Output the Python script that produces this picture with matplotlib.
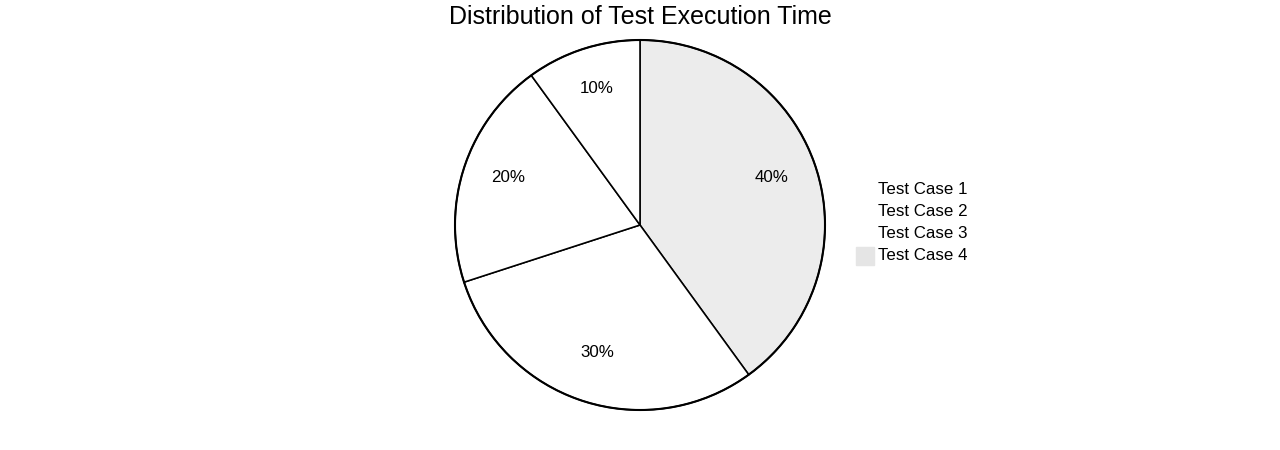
import matplotlib.pyplot as plt
from matplotlib.patches import Circle, Rectangle

labels = ["Test Case 1", "Test Case 2", "Test Case 3", "Test Case 4"]
values = [10, 20, 30, 40]
colors = ["#ffffff", "#ffffff", "#ffffff", "#ececec"]
legend_colors = ["#ffffff", "#ffffff", "#ffffff", "#e5e5e5"]

plt.rcParams["font.family"] = ["Liberation Sans", "DejaVu Sans"]

fig = plt.figure(figsize=(12.8, 4.5), dpi=100)
ax = fig.add_axes([0, 0, 1, 1])

# slices drawn largest first, clockwise from 12 o'clock
order = sorted(range(len(values)), key=lambda i: -values[i])
total = sum(values)
cx, cy, r = 640, 225, 185
wedges, texts = ax.pie(
    [values[i] for i in order],
    colors=[colors[i] for i in order],
    startangle=90, counterclock=False,
    center=(cx, cy), radius=r, frame=True,
    labels=[f"{values[i] / total * 100:.0f}%" for i in order],
    labeldistance=0.75,
    wedgeprops=dict(edgecolor="black", linewidth=1.15),
    textprops=dict(fontsize=12.2, color="black", ha="center", va="center"),
)
for t in texts:
    x, y = t.get_position()
    t.set_position((x, y + 4.5))
ax.set_xlim(0, 1280)
ax.set_ylim(0, 450)
ax.set_aspect("equal")
ax.axis("off")
ax.add_patch(Circle((cx, cy), r, fill=False, edgecolor="black", linewidth=1.5))

ax.text(640, 450 - 17.5, "Distribution of Test Execution Time",
        fontsize=18, ha="center", va="center")

for i, lab in enumerate(labels):
    y = 450 - (190 + 22 * i)
    ax.add_patch(Rectangle((856, y - 9), 18, 18, facecolor=legend_colors[i],
                           edgecolor=legend_colors[i], linewidth=1))
    ax.text(878, y, lab, fontsize=12.2, ha="left", va="center")

fig.savefig("out.png", dpi=100)
